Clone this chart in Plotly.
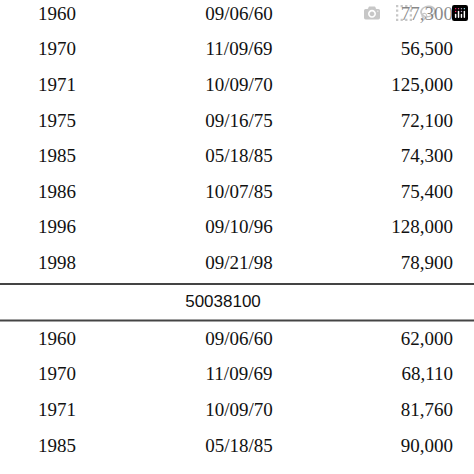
import plotly.graph_objects as go

# Station block before the header row
years_a = ["1960", "1970", "1971", "1975", "1985", "1986", "1996", "1998"]
dates_a = ["09/06/60", "11/09/69", "10/09/70", "09/16/75", "05/18/85", "10/07/85", "09/10/96", "09/21/98"]
flows_a = ["77,300", "56,500", "125,000", "72,100", "74,300", "75,400", "128,000", "78,900"]

station_b = "50038100"
years_b = ["1960", "1970", "1971", "1985"]
dates_b = ["09/06/60", "11/09/69", "10/09/70", "05/18/85"]
flows_b = ["62,000", "68,110", "81,760", "90,000"]

step = 35.6
ya = [15 + i * step for i in range(len(years_a))]
yb = [340 + i * step for i in range(len(years_b))]
font = dict(family="Liberation Serif", size=19, color="#111")

fig = go.Figure()
for years, dates, flows, ys in [(years_a, dates_a, flows_a, ya), (years_b, dates_b, flows_b, yb)]:
    fig.add_trace(go.Scatter(x=[57] * len(ys), y=ys, text=years, mode="text",
                             textposition="middle center", textfont=font))
    fig.add_trace(go.Scatter(x=[239] * len(ys), y=ys, text=dates, mode="text",
                             textposition="middle center", textfont=font))
    fig.add_trace(go.Scatter(x=[453] * len(ys), y=ys, text=flows, mode="text",
                             textposition="middle left", textfont=font))

fig.add_trace(go.Scatter(x=[223], y=[303], text=[station_b], mode="text",
                         textposition="middle center",
                         textfont=dict(family="Liberation Sans", size=17, color="#111")))

for y in [284, 320.5]:
    fig.add_shape(type="line", x0=0, x1=474, y0=y, y1=y, line=dict(color="#444", width=2))

fig.update_layout(
    width=474, height=474, margin=dict(l=0, r=0, t=0, b=0),
    paper_bgcolor="white", plot_bgcolor="white", showlegend=False,
    xaxis=dict(range=[0, 474], visible=False, fixedrange=True),
    yaxis=dict(range=[474, 0], visible=False, fixedrange=True),
)
fig.write_html("out.html", post_script="document.body.style.margin='0';document.body.style.overflow='hidden';")
